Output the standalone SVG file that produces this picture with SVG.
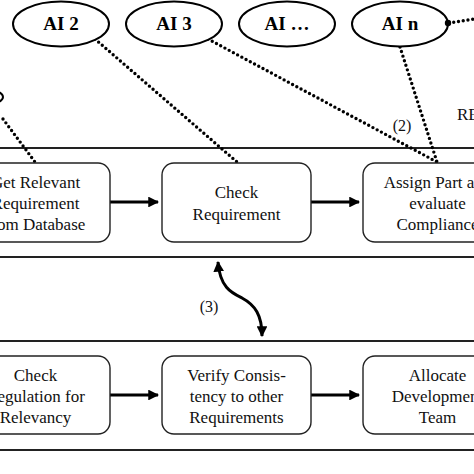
<svg xmlns="http://www.w3.org/2000/svg" width="474" height="474" viewBox="0 0 474 474">
<style>
.ai{fill:#fff;stroke:#000;stroke-width:2}
.ait{font-family:"Liberation Serif",serif;font-weight:bold;font-size:19px;text-anchor:middle}
.box{fill:#fff;stroke:#222;stroke-width:1.4}
.t{font-family:"Liberation Serif",serif;font-size:17px;text-anchor:middle;fill:#111}
.lbl{font-family:"Liberation Serif",serif;font-size:16px;text-anchor:middle;fill:#111}
.lane{stroke:#222;stroke-width:2}
.dot{fill:none;stroke:#000;stroke-width:3.4;stroke-dasharray:0 4.8;stroke-linecap:round}
.arr{fill:none;stroke:#000;stroke-width:3}
</style>
<defs>
<marker id="ah" viewBox="0 0 10 10" refX="9" refY="5" markerWidth="3.6" markerHeight="3.6" orient="auto-start-reverse" markerUnits="strokeWidth">
<path d="M0,0 L10,5 L0,10 z" fill="#000"/>
</marker>
</defs>
<rect width="474" height="474" fill="#fff"/>
<g id="lanes">
<line class="lane" x1="0" y1="148" x2="474" y2="148"/>
<line class="lane" x1="0" y1="257" x2="474" y2="257"/>
<line class="lane" x1="0" y1="341" x2="474" y2="341"/>
<line class="lane" x1="0" y1="450" x2="474" y2="450"/>
</g>
<g id="connectors">
<path class="dot" d="M3,119 L35,162"/>
<path class="dot" d="M95,39 L237,162"/>
<path class="dot" d="M208,39 L437,162"/>
<path class="dot" d="M400,47 L437,162"/>
<path class="dot" d="M449,23 L474,19"/>
<path class="arr" d="M110,202 L158,202" marker-end="url(#ah)"/>
<path class="arr" d="M311,202 L359,202" marker-end="url(#ah)"/>
<path class="arr" d="M110,395 L158,395" marker-end="url(#ah)"/>
<path class="arr" d="M311,395 L359,395" marker-end="url(#ah)"/>
<path class="arr" d="M218,262 C220,288 232,293 242,298 C255,305 262,315 262,336" marker-start="url(#ah)" marker-end="url(#ah)"/>
</g>
<g id="ai0"><ellipse class="ai" cx="-30" cy="97" rx="33" ry="10"/></g>
<g id="ai2"><ellipse class="ai" cx="61" cy="24" rx="48" ry="22.5"/><text class="ait" x="61" y="30">AI 2</text></g>
<g id="ai3"><ellipse class="ai" cx="174" cy="24" rx="48" ry="22.5"/><text class="ait" x="174" y="30">AI 3</text></g>
<g id="aidots"><ellipse class="ai" cx="287" cy="24" rx="48" ry="22.5"/><text class="ait" x="287" y="30">AI …</text></g>
<g id="ain"><ellipse class="ai" cx="400" cy="24" rx="48" ry="22.5"/><text class="ait" x="400" y="30">AI n</text><circle cx="448" cy="23" r="3.2" fill="#000"/></g>
<g id="lbl2"><text class="lbl" x="402" y="131">(2)</text></g>
<g id="lbl3"><text class="lbl" x="209" y="312">(3)</text></g>
<g id="re"><text class="t" x="457" y="120" style="text-anchor:start">RE</text></g>
<g id="n1"><rect class="box" x="-39" y="163" width="149" height="79" rx="12"/><text class="t" x="35.5" y="188">Get Relevant</text><text class="t" x="35.5" y="209">Requirement</text><text class="t" x="35.5" y="230">from Database</text></g>
<g id="n2"><rect class="box" x="162" y="163" width="149" height="79" rx="12"/><text class="t" x="236.5" y="198">Check</text><text class="t" x="236.5" y="220">Requirement</text></g>
<g id="n3"><rect class="box" x="363" y="163" width="149" height="79" rx="12"/><text class="t" x="437.5" y="188">Assign Part and</text><text class="t" x="437.5" y="209">evaluate</text><text class="t" x="437.5" y="230">Compliance</text></g>
<g id="n4"><rect class="box" x="-39" y="356" width="149" height="78" rx="12"/><text class="t" x="35.5" y="381">Check</text><text class="t" x="35.5" y="402">Regulation for</text><text class="t" x="35.5" y="423">Relevancy</text></g>
<g id="n5"><rect class="box" x="162" y="356" width="149" height="78" rx="12"/><text class="t" x="236.5" y="381">Verify Consis-</text><text class="t" x="236.5" y="402">tency to other</text><text class="t" x="236.5" y="423">Requirements</text></g>
<g id="n6"><rect class="box" x="363" y="356" width="149" height="78" rx="12"/><text class="t" x="437.5" y="381">Allocate</text><text class="t" x="437.5" y="402">Development</text><text class="t" x="437.5" y="423">Team</text></g>
</svg>
